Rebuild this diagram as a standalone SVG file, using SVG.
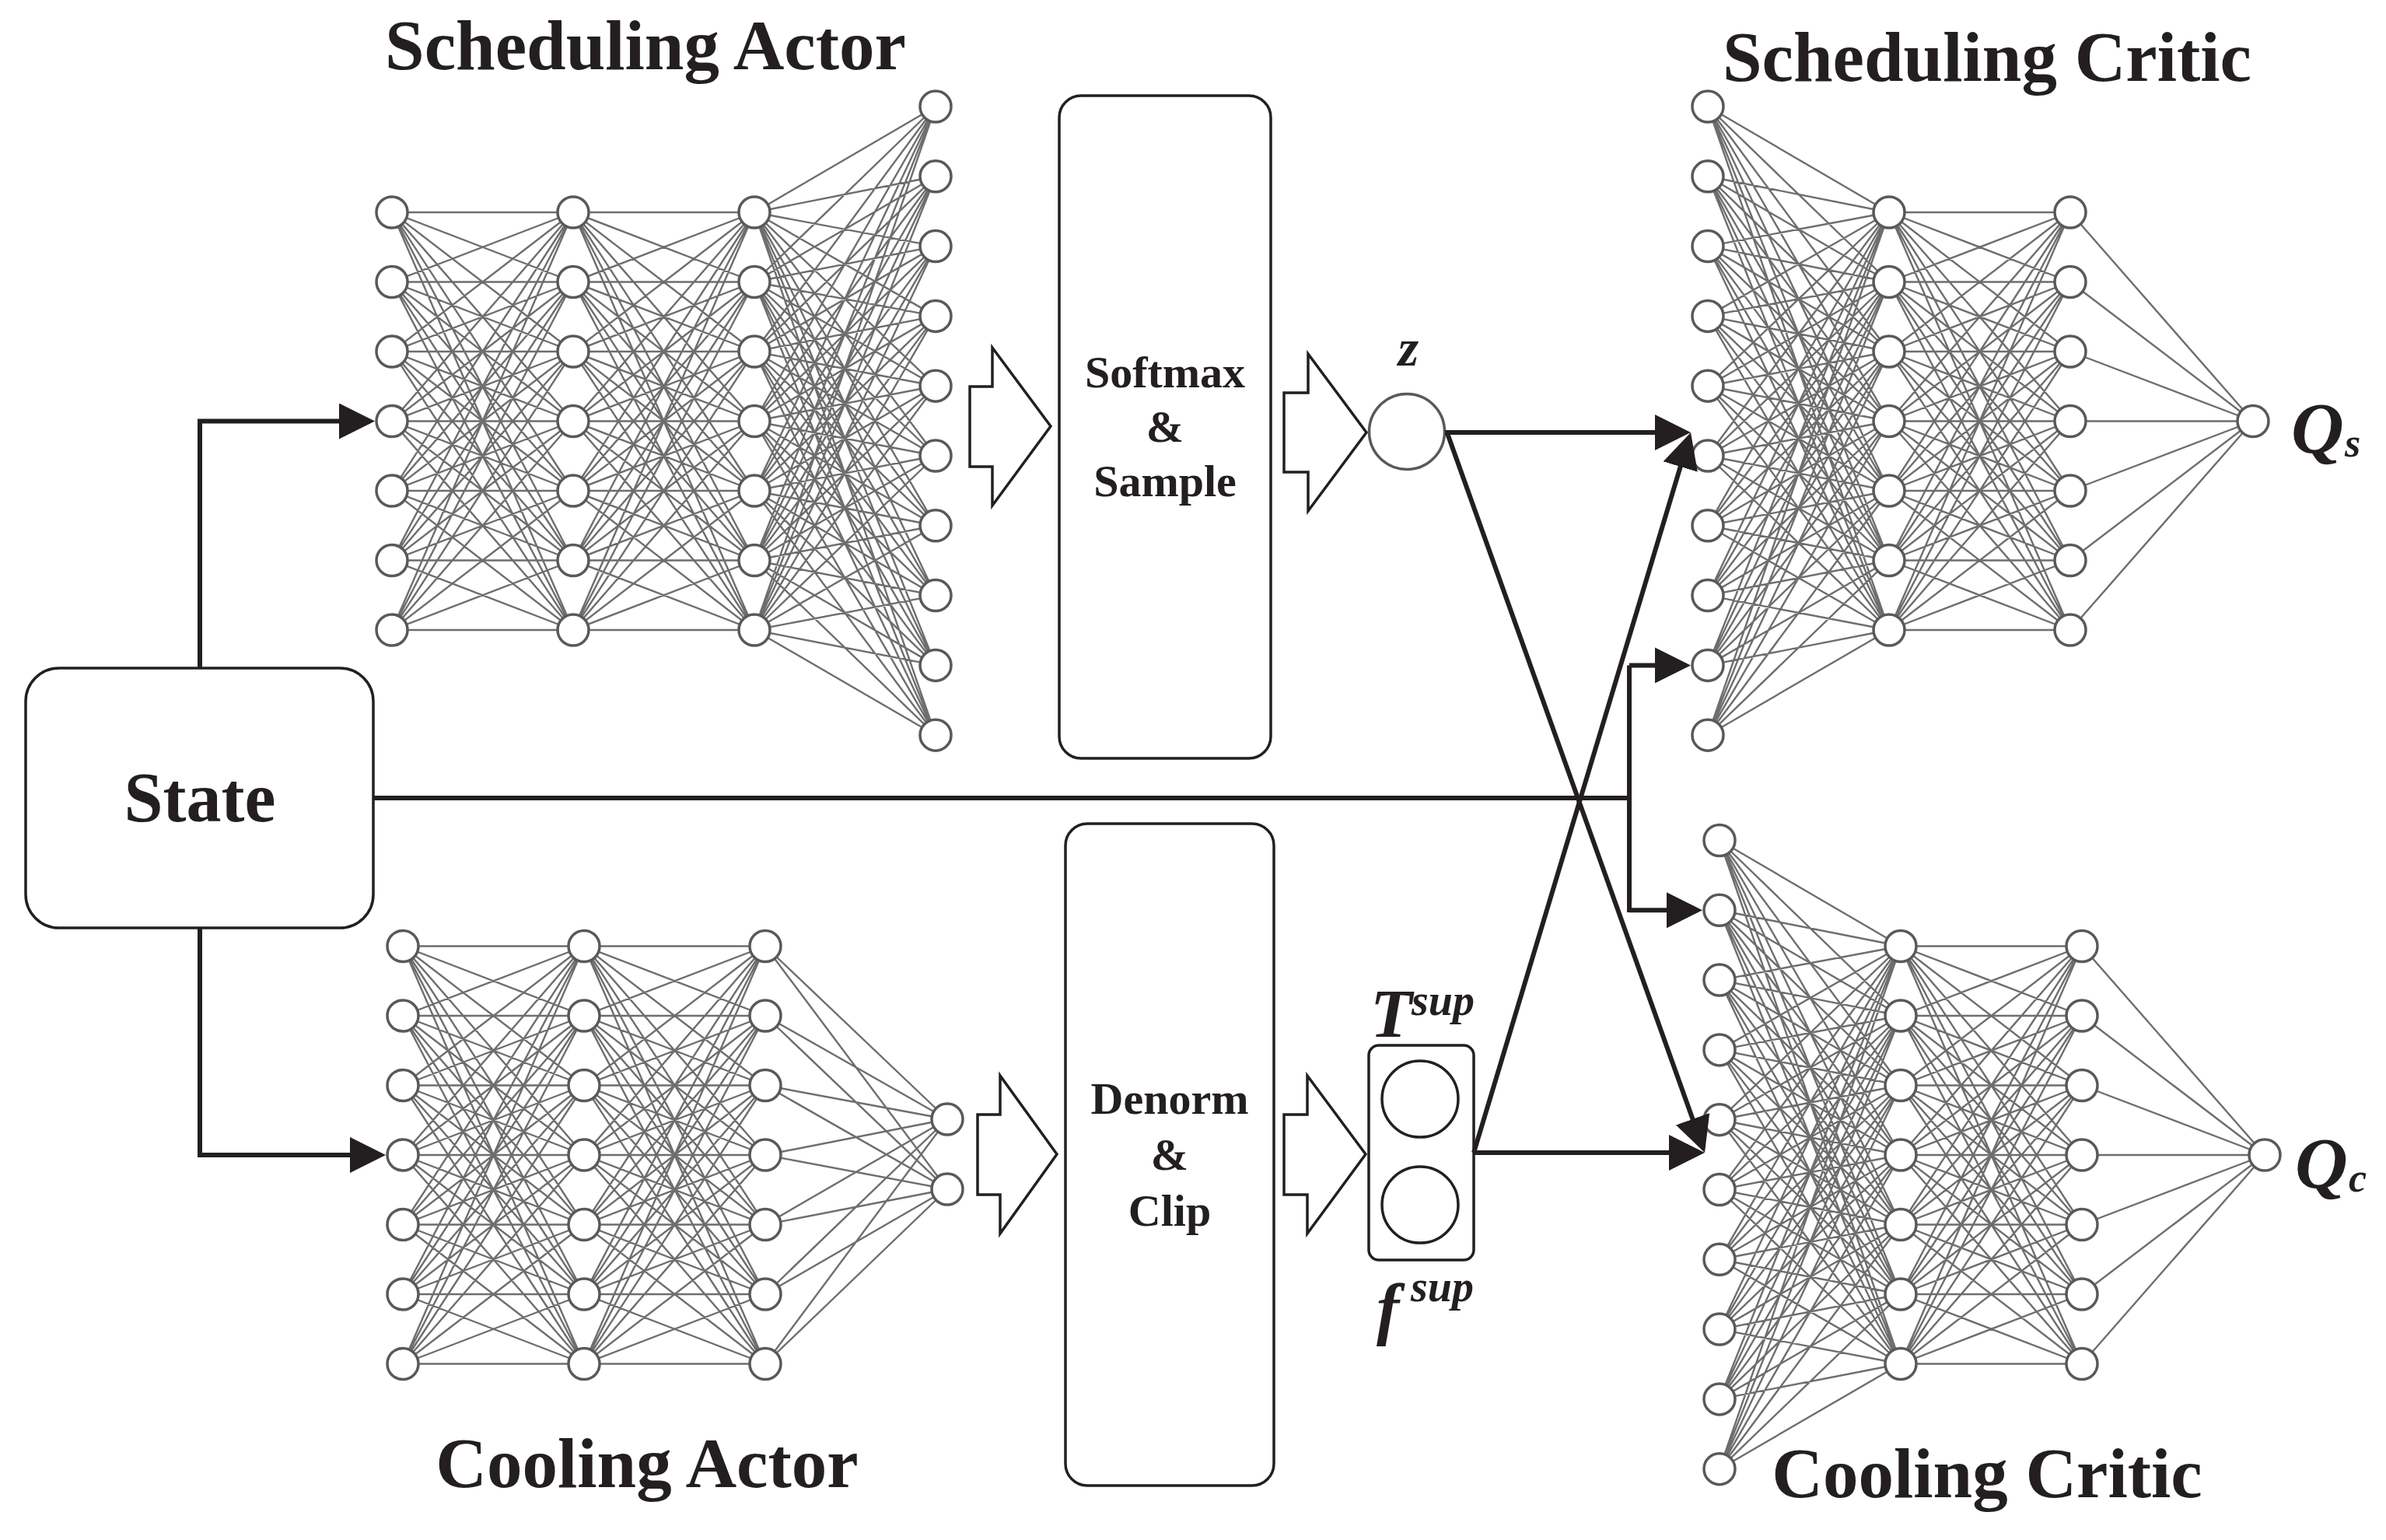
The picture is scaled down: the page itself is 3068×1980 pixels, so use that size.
<svg xmlns="http://www.w3.org/2000/svg" width="3068" height="1980" viewBox="0 0 3068 1980">
<style>
.edge{fill:none;stroke:#6e6e6e;stroke-width:2.4;stroke-linejoin:round}
.nn{fill:#fff;stroke:#595959;stroke-width:3.5}
.blk{fill:#fff;stroke:#231f20;stroke-width:3.5}
.conn{fill:none;stroke:#231f20;stroke-width:6}
.serif{font-family:"Liberation Serif","Times New Roman",serif;font-weight:bold;fill:#231f20}
.title{font-size:91px;text-anchor:middle}
.lbl{font-size:58px;text-anchor:middle}
.it{font-style:italic}
</style>
<defs>
<marker id="ah" markerUnits="userSpaceOnUse" markerWidth="46" markerHeight="46" viewBox="0 0 46 46" refX="40" refY="23" orient="auto">
<path d="M0,0 L46,23 L0,46 z" fill="#231f20"/>
</marker>
<path id="e77" class="edge" d="M0 273L233 273L0 273L233 362.5L0 273L233 452L0 273L233 541.5L0 273L233 631L0 273L233 720.5L0 273L233 810M0 362.5L233 273L0 362.5L233 362.5L0 362.5L233 452L0 362.5L233 541.5L0 362.5L233 631L0 362.5L233 720.5L0 362.5L233 810M0 452L233 273L0 452L233 362.5L0 452L233 452L0 452L233 541.5L0 452L233 631L0 452L233 720.5L0 452L233 810M0 541.5L233 273L0 541.5L233 362.5L0 541.5L233 452L0 541.5L233 541.5L0 541.5L233 631L0 541.5L233 720.5L0 541.5L233 810M0 631L233 273L0 631L233 362.5L0 631L233 452L0 631L233 541.5L0 631L233 631L0 631L233 720.5L0 631L233 810M0 720.5L233 273L0 720.5L233 362.5L0 720.5L233 452L0 720.5L233 541.5L0 720.5L233 631L0 720.5L233 720.5L0 720.5L233 810M0 810L233 273L0 810L233 362.5L0 810L233 452L0 810L233 541.5L0 810L233 631L0 810L233 720.5L0 810L233 810"/>
<path id="e710" class="edge" d="M0 273L233 137L0 273L233 226.8L0 273L233 316.6L0 273L233 406.4L0 273L233 496.2L0 273L233 586L0 273L233 675.8L0 273L233 765.6L0 273L233 855.4L0 273L233 945.2M0 362.5L233 137L0 362.5L233 226.8L0 362.5L233 316.6L0 362.5L233 406.4L0 362.5L233 496.2L0 362.5L233 586L0 362.5L233 675.8L0 362.5L233 765.6L0 362.5L233 855.4L0 362.5L233 945.2M0 452L233 137L0 452L233 226.8L0 452L233 316.6L0 452L233 406.4L0 452L233 496.2L0 452L233 586L0 452L233 675.8L0 452L233 765.6L0 452L233 855.4L0 452L233 945.2M0 541.5L233 137L0 541.5L233 226.8L0 541.5L233 316.6L0 541.5L233 406.4L0 541.5L233 496.2L0 541.5L233 586L0 541.5L233 675.8L0 541.5L233 765.6L0 541.5L233 855.4L0 541.5L233 945.2M0 631L233 137L0 631L233 226.8L0 631L233 316.6L0 631L233 406.4L0 631L233 496.2L0 631L233 586L0 631L233 675.8L0 631L233 765.6L0 631L233 855.4L0 631L233 945.2M0 720.5L233 137L0 720.5L233 226.8L0 720.5L233 316.6L0 720.5L233 406.4L0 720.5L233 496.2L0 720.5L233 586L0 720.5L233 675.8L0 720.5L233 765.6L0 720.5L233 855.4L0 720.5L233 945.2M0 810L233 137L0 810L233 226.8L0 810L233 316.6L0 810L233 406.4L0 810L233 496.2L0 810L233 586L0 810L233 675.8L0 810L233 765.6L0 810L233 855.4L0 810L233 945.2"/>
<path id="e71" class="edge" d="M0 273L235 541.5L0 362.5L235 541.5L0 452L235 541.5L0 541.5L235 541.5L0 631L235 541.5L0 720.5L235 541.5L0 810L235 541.5"/>
<g id="c7" class="nn">
<circle cx="0" cy="273" r="20"/><circle cx="0" cy="362.5" r="20"/><circle cx="0" cy="452" r="20"/><circle cx="0" cy="541.5" r="20"/><circle cx="0" cy="631" r="20"/><circle cx="0" cy="720.5" r="20"/><circle cx="0" cy="810" r="20"/>
</g>
<g id="c10" class="nn">
<circle cx="0" cy="137" r="20"/><circle cx="0" cy="226.8" r="20"/><circle cx="0" cy="316.6" r="20"/><circle cx="0" cy="406.4" r="20"/><circle cx="0" cy="496.2" r="20"/><circle cx="0" cy="586" r="20"/><circle cx="0" cy="675.8" r="20"/><circle cx="0" cy="765.6" r="20"/><circle cx="0" cy="855.4" r="20"/><circle cx="0" cy="945.2" r="20"/>
</g>
</defs>
<rect width="3068" height="1980" fill="#fff"/>

<g id="sched-actor">
<use href="#e77" transform="translate(504,0)"/>
<use href="#e77" transform="translate(737,0)"/>
<use href="#e710" transform="translate(970,0)"/>
<use href="#c7" transform="translate(504,0)"/>
<use href="#c7" transform="translate(737,0)"/>
<use href="#c7" transform="translate(970,0)"/>
<use href="#c10" transform="translate(1203,0)"/>
<text class="serif title" x="830" y="89">Scheduling Actor</text>
</g>

<g id="sched-critic">
<use href="#e710" transform="translate(2429,0) scale(-1,1)"/>
<use href="#e77" transform="translate(2429,0)"/>
<use href="#e71" transform="translate(2662,0)"/>
<use href="#c10" transform="translate(2196,0)"/>
<use href="#c7" transform="translate(2429,0)"/>
<use href="#c7" transform="translate(2662,0)"/>
<circle class="nn" cx="2897" cy="541.5" r="20"/>
<text class="serif title" x="2555" y="104">Scheduling Critic</text>
<text class="serif it" x="2946" y="582" font-size="94">Q</text>
<text class="serif it" x="3015" y="587" font-size="52">s</text>
</g>

<g id="cooling-actor">
<use href="#e77" transform="translate(518,943.5)"/>
<use href="#e77" transform="translate(751,943.5)"/>
<path class="edge" d="M984 1216.5L1218 1439L984 1306L1218 1439L984 1395.5L1218 1439L984 1485L1218 1439L984 1574.5L1218 1439L984 1664L1218 1439L984 1753.5L1218 1439M984 1216.5L1218 1529L984 1306L1218 1529L984 1395.5L1218 1529L984 1485L1218 1529L984 1574.5L1218 1529L984 1664L1218 1529L984 1753.5L1218 1529"/>
<use href="#c7" transform="translate(518,943.5)"/>
<use href="#c7" transform="translate(751,943.5)"/>
<use href="#c7" transform="translate(984,943.5)"/>
<circle class="nn" cx="1218" cy="1439" r="20"/>
<circle class="nn" cx="1218" cy="1529" r="20"/>
<text class="serif title" x="832" y="1912">Cooling Actor</text>
</g>

<g id="cooling-critic">
<use href="#e710" transform="translate(2444,943.5) scale(-1,1)"/>
<use href="#e77" transform="translate(2444,943.5)"/>
<use href="#e71" transform="translate(2677,943.5)"/>
<use href="#c10" transform="translate(2211,943.5)"/>
<use href="#c7" transform="translate(2444,943.5)"/>
<use href="#c7" transform="translate(2677,943.5)"/>
<circle class="nn" cx="2912" cy="1485" r="20"/>
<text class="serif title" x="2555" y="1925">Cooling Critic</text>
<text class="serif it" x="2951" y="1527" font-size="94">Q</text>
<text class="serif it" x="3020" y="1532" font-size="52">c</text>
</g>

<g id="state">
<rect class="blk" x="33" y="859" width="447" height="334" rx="43"/>
<text class="serif" x="257" y="1056" font-size="90" text-anchor="middle">State</text>
</g>

<g id="softmax-sample">
<rect class="blk" x="1362" y="123" width="272" height="852" rx="28"/>
<text class="serif lbl" x="1498" y="498">Softmax</text>
<text class="serif lbl" x="1498" y="568">&amp;</text>
<text class="serif lbl" x="1498" y="638">Sample</text>
</g>

<g id="denorm-clip">
<rect class="blk" x="1370" y="1059" width="268" height="851" rx="28"/>
<text class="serif lbl" x="1504" y="1432">Denorm</text>
<text class="serif lbl" x="1504" y="1504">&amp;</text>
<text class="serif lbl" x="1504" y="1576">Clip</text>
</g>

<g id="z-node">
<circle cx="1809" cy="555" r="48.5" fill="#fff" stroke="#595959" stroke-width="3.5"/>
<text class="serif it" x="1811" y="470" font-size="68" text-anchor="middle">z</text>
</g>

<g id="tf-node">
<rect class="blk" x="1760" y="1344" width="135" height="276" rx="13"/>
<circle class="blk" cx="1826" cy="1413" r="49"/>
<circle class="blk" cx="1826" cy="1549" r="49"/>
<text class="serif it" x="1762" y="1333" font-size="88">T</text>
<text class="serif it" x="1815" y="1305" font-size="56">sup</text>
<text class="serif it" x="1770" y="1712" font-size="88">f</text>
<text class="serif it" x="1814" y="1673" font-size="56">sup</text>
</g>

<g id="block-arrows" class="blk">
<polygon points="1247,497 1276,497 1276,447 1351,548 1276,650 1276,600 1247,600"/>
<polygon points="1651,505 1682,505 1682,455 1757,556 1682,657 1682,607 1651,607"/>
<polygon points="1257,1433 1286,1433 1286,1383 1359,1484 1286,1586 1286,1536 1257,1536"/>
<polygon points="1651,1433 1681,1433 1681,1383 1756,1484 1681,1586 1681,1536 1651,1536"/>
</g>

<g id="connectors" class="conn">
<path d="M257 859V541.5H476" marker-end="url(#ah)"/>
<path d="M257 1193V1485H490" marker-end="url(#ah)"/>
<path d="M480 1026H2095M2095 855.4V1173"/>
<path d="M2095 855.4H2168" marker-end="url(#ah)"/>
<path d="M2095 1170.3H2183" marker-end="url(#ah)"/>
<path d="M1858 556H2168" marker-end="url(#ah)"/>
<path d="M1861 557L2190 1476.4" marker-end="url(#ah)"/>
<path d="M1895 1482L2172.3 561.7" marker-end="url(#ah)"/>
<path d="M1895 1482H2186" marker-end="url(#ah)"/>
</g>
</svg>
